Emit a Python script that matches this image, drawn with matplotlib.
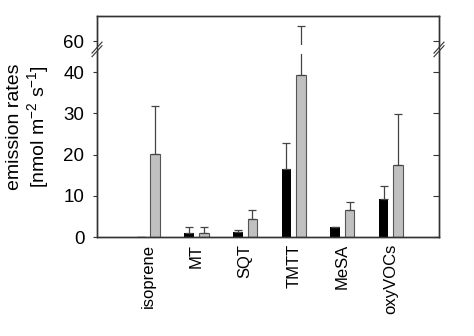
import numpy as np
import matplotlib
matplotlib.use('Agg')
import matplotlib.pyplot as plt
from matplotlib.patches import Polygon, Rectangle

plt.rcParams['font.family'] = ['Liberation Sans', 'DejaVu Sans']
plt.rcParams['mathtext.fontset'] = 'custom'
plt.rcParams['mathtext.rm'] = 'Liberation Sans'
plt.rcParams['mathtext.it'] = 'Liberation Sans'

# data
compounds = ['isoprene', 'MT', 'SQT', 'TMTT', 'MeSA', 'oxyVOCs']
black_vals = [0.0, 1.0, 1.3, 16.6, 2.4, 9.1]
black_err = [0.0, 1.5, 0.3, 6.1, 0.0, 3.3]
grey_vals = [20.2, 0.9, 4.3, 39.3, 6.5, 17.5]
grey_err = [11.6, 1.5, 2.2, 24.5, 2.1, 12.3]
yticks = [0, 10, 20, 30, 40, 60]

# broken y axis: [LO, HI] squeezed into GAP units
LO, HI, GAP = 44.5, 59.0, 2.0


def fwd(v):
    v = np.asarray(v, dtype=float)
    return np.where(v <= LO, v,
                    np.where(v >= HI, v - (HI - LO) + GAP,
                             LO + (v - LO) * GAP / (HI - LO)))


def inv(u):
    u = np.asarray(u, dtype=float)
    return np.where(u <= LO, u,
                    np.where(u >= LO + GAP, u + (HI - LO) - GAP,
                             LO + (u - LO) * (HI - LO) / GAP))


fig = plt.figure(figsize=(4.74, 3.36), dpi=100)
ax = fig.add_axes([0.2046, 0.2946, 0.7215, 0.6577])
ax.set_yscale('function', functions=(fwd, inv))

x = np.arange(len(compounds))
w = 0.2
off = 0.15
ax.bar(x - off, black_vals, w, color='black', linewidth=0, zorder=1)
ax.bar(x + off, grey_vals, w, color='#c0c0c0', edgecolor='#555555',
       linewidth=0.8, zorder=1)
ax.errorbar(x - off, black_vals, yerr=[np.zeros(len(x)), black_err],
            fmt='none', ecolor='#444444', elinewidth=0.9, capsize=3,
            capthick=0.9, zorder=2)
ax.errorbar(x + off, grey_vals, yerr=[np.zeros(len(x)), grey_err],
            fmt='none', ecolor='#444444', elinewidth=0.9, capsize=3,
            capthick=0.9, zorder=2)

ymax = 66.1
ax.set_xlim(-1.05, 5.99)
ax.set_ylim(0, ymax)
ax.set_yticks(yticks)
ax.set_yticklabels([str(t) for t in yticks], fontsize=13.5)
ax.set_xticks(x)
ax.set_xticklabels(compounds, rotation=90, fontsize=12)
ax.tick_params(axis='x', length=0, pad=5)
ax.tick_params(axis='y', which='both', direction='out', length=3, pad=6,
               color='#333333', right=False)
ax.minorticks_off()

# inward ticks on right side
axr = ax.twinx()
axr.set_yscale('function', functions=(fwd, inv))
axr.set_ylim(0, ymax)
axr.set_yticks(yticks)
axr.set_yticklabels([])
axr.tick_params(axis='y', direction='in', length=4, color='#333333')
axr.minorticks_off()

for a in (ax, axr):
    for s in a.spines.values():
        s.set_color('#333333')
        s.set_linewidth(1.0)

ax.set_ylabel('emission rates\n[nmol m$^{-2}$ s$^{-1}$]', fontsize=14,
              linespacing=1.1, labelpad=9)

# gap across the plot at the break
ax.add_patch(Rectangle((0.004, LO), 0.992, HI - LO,
                       transform=ax.get_yaxis_transform(),
                       facecolor='white', edgecolor='none', zorder=2.2))

# break marks on both spines
wpx, hpx = 0.7215 * 474, 0.6577 * 336
yb = float(fwd((LO + HI) / 2)) / float(fwd(ymax))
dx, dy, sep = 5 / wpx, 5.5 / hpx, 1.8 / hpx
for xb in (0.0, 1.0):
    poly = Polygon([(xb - dx, yb - dy - sep), (xb + dx, yb + dy - sep),
                    (xb + dx, yb + dy + sep), (xb - dx, yb - dy + sep)],
                   closed=True, transform=ax.transAxes, facecolor='white',
                   edgecolor='none', clip_on=False, zorder=5)
    ax.add_patch(poly)
    for s in (-sep, sep):
        ax.plot([xb - dx, xb + dx], [yb - dy + s, yb + dy + s],
                transform=ax.transAxes, color='#333333', lw=0.8,
                clip_on=False, zorder=6)

fig.savefig('out.png', dpi=100)
